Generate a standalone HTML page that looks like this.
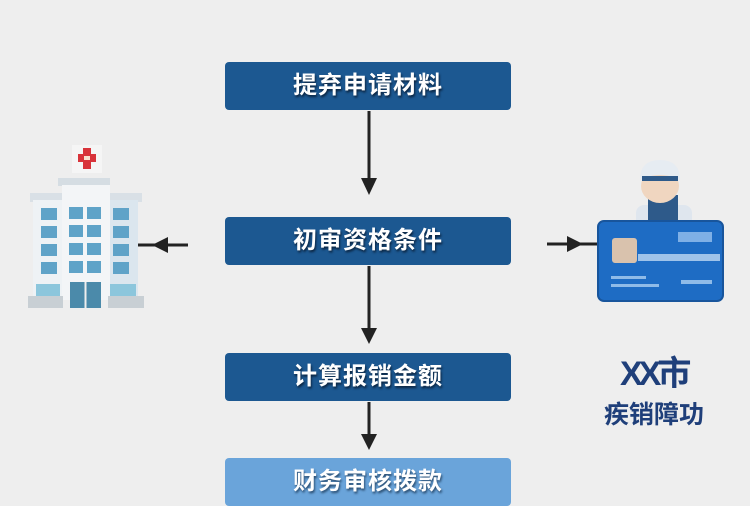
<!DOCTYPE html>
<html><head><meta charset="utf-8"><style>
body{margin:0;width:750px;height:500px;overflow:hidden;background:#eeeeee;font-family:"Liberation Sans","Noto Sans CJK SC",sans-serif;position:relative}
.b{position:absolute;left:225px;width:286px;height:48px;border-radius:4px;background:#1c5891;color:#fff;font-size:24px;font-weight:bold;text-align:center;line-height:48px;text-shadow:1px 2px 2px #0b2440;letter-spacing:1px}
svg{position:absolute;left:0;top:0}
</style></head><body>
<div class="b" style="top:62px">提弃申请材料</div>
<div class="b" style="top:217px">初审资格条件</div>
<div class="b" style="top:353px">计算报销金额</div>
<div class="b" style="top:458px;background:#6aa4da;text-shadow:1px 2px 2px #2a4d70">财务审核拨款</div>
<svg width="750" height="500">
<g fill="#222" stroke="#222">
<line x1="369" y1="111" x2="369" y2="180" stroke-width="3"/><polygon points="361,178 377,178 369,195" stroke="none"/>
<line x1="369" y1="266" x2="369" y2="330" stroke-width="3"/><polygon points="361,328 377,328 369,344" stroke="none"/>
<line x1="369" y1="402" x2="369" y2="436" stroke-width="3"/><polygon points="361,434 377,434 369,450" stroke="none"/>
<line x1="136" y1="245" x2="188" y2="245" stroke-width="3"/><polygon points="168,237 168,253 152,245" stroke="none"/>
<line x1="547" y1="244" x2="598" y2="244" stroke-width="3"/><polygon points="567,236 567,252 583,244" stroke="none"/>
</g>
<!-- hospital -->
<rect x="72" y="145" width="30" height="28" fill="#f5f5f5"/>
<rect x="78" y="154" width="18" height="8" fill="#d8333a"/><rect x="83" y="148" width="8" height="21" fill="#d8333a"/>
<rect x="84" y="156" width="6" height="4" fill="#f8e0d0"/>
<rect x="58" y="178" width="52" height="8" fill="#d5dde3"/>
<rect x="30" y="193" width="112" height="9" fill="#d9e0e6"/>
<rect x="33" y="200" width="30" height="100" fill="#eef2f5"/>
<rect x="109" y="200" width="29" height="100" fill="#dbe6ee"/>
<rect x="62" y="185" width="48" height="115" fill="#f3f5f7"/>
<g fill="#5fa3c8">
<rect x="41" y="208" width="16" height="12"/><rect x="41" y="226" width="16" height="12"/><rect x="41" y="244" width="16" height="12"/><rect x="41" y="262" width="16" height="12"/>
<rect x="69" y="207" width="14" height="12"/><rect x="87" y="207" width="14" height="12"/><rect x="69" y="225" width="14" height="12"/><rect x="87" y="225" width="14" height="12"/>
<rect x="69" y="243" width="14" height="12"/><rect x="87" y="243" width="14" height="12"/><rect x="69" y="261" width="14" height="12"/><rect x="87" y="261" width="14" height="12"/>
<rect x="113" y="208" width="16" height="12"/><rect x="113" y="226" width="16" height="12"/><rect x="113" y="244" width="16" height="12"/><rect x="113" y="262" width="16" height="12"/>
</g>
<rect x="36" y="284" width="24" height="12" fill="#8cc6dc"/><rect x="110" y="284" width="26" height="12" fill="#8cc6dc"/>
<rect x="70" y="282" width="31" height="26" fill="#4b8aaa"/><line x1="85.5" y1="282" x2="85.5" y2="308" stroke="#eee" stroke-width="2"/>
<rect x="28" y="296" width="35" height="12" fill="#c8cfd4"/><rect x="108" y="296" width="36" height="12" fill="#c8cfd4"/>
<!-- person -->
<rect x="636" y="205" width="56" height="22" rx="8" fill="#dfe6ee"/>
<rect x="648" y="195" width="30" height="28" fill="#2e5a8a"/>
<ellipse cx="660" cy="186" rx="19" ry="17" fill="#f0d6c0"/>
<path d="M640 180 Q640 160 660 160 Q680 160 680 180 L676 178 Q660 172 644 178Z" fill="#e6ecf2"/>
<rect x="642" y="176" width="36" height="5" fill="#2e5a8a"/>
<!-- card -->
<rect x="598" y="221" width="125" height="80" rx="6" fill="#1e6cc4" stroke="#18559c" stroke-width="2"/>
<rect x="612" y="238" width="25" height="25" rx="3" fill="#d9c2ad"/>
<rect x="638" y="254" width="82" height="7" fill="#9fc3ea"/>
<rect x="678" y="232" width="34" height="10" fill="#7fb0e6"/>
<rect x="611" y="276" width="35" height="3" fill="#8fbbe8"/><rect x="611" y="284" width="48" height="3" fill="#8fbbe8"/>
<rect x="681" y="280" width="31" height="4" fill="#8fbbe8"/>
</svg>
<div style="position:absolute;left:620px;top:346px;font-size:34px;font-weight:bold;color:#1f3f7a;letter-spacing:-4px">XX市</div>
<div style="position:absolute;left:604px;top:395px;font-size:25px;color:#1f3f7a;font-weight:bold">疾销障功</div>
</body></html>
